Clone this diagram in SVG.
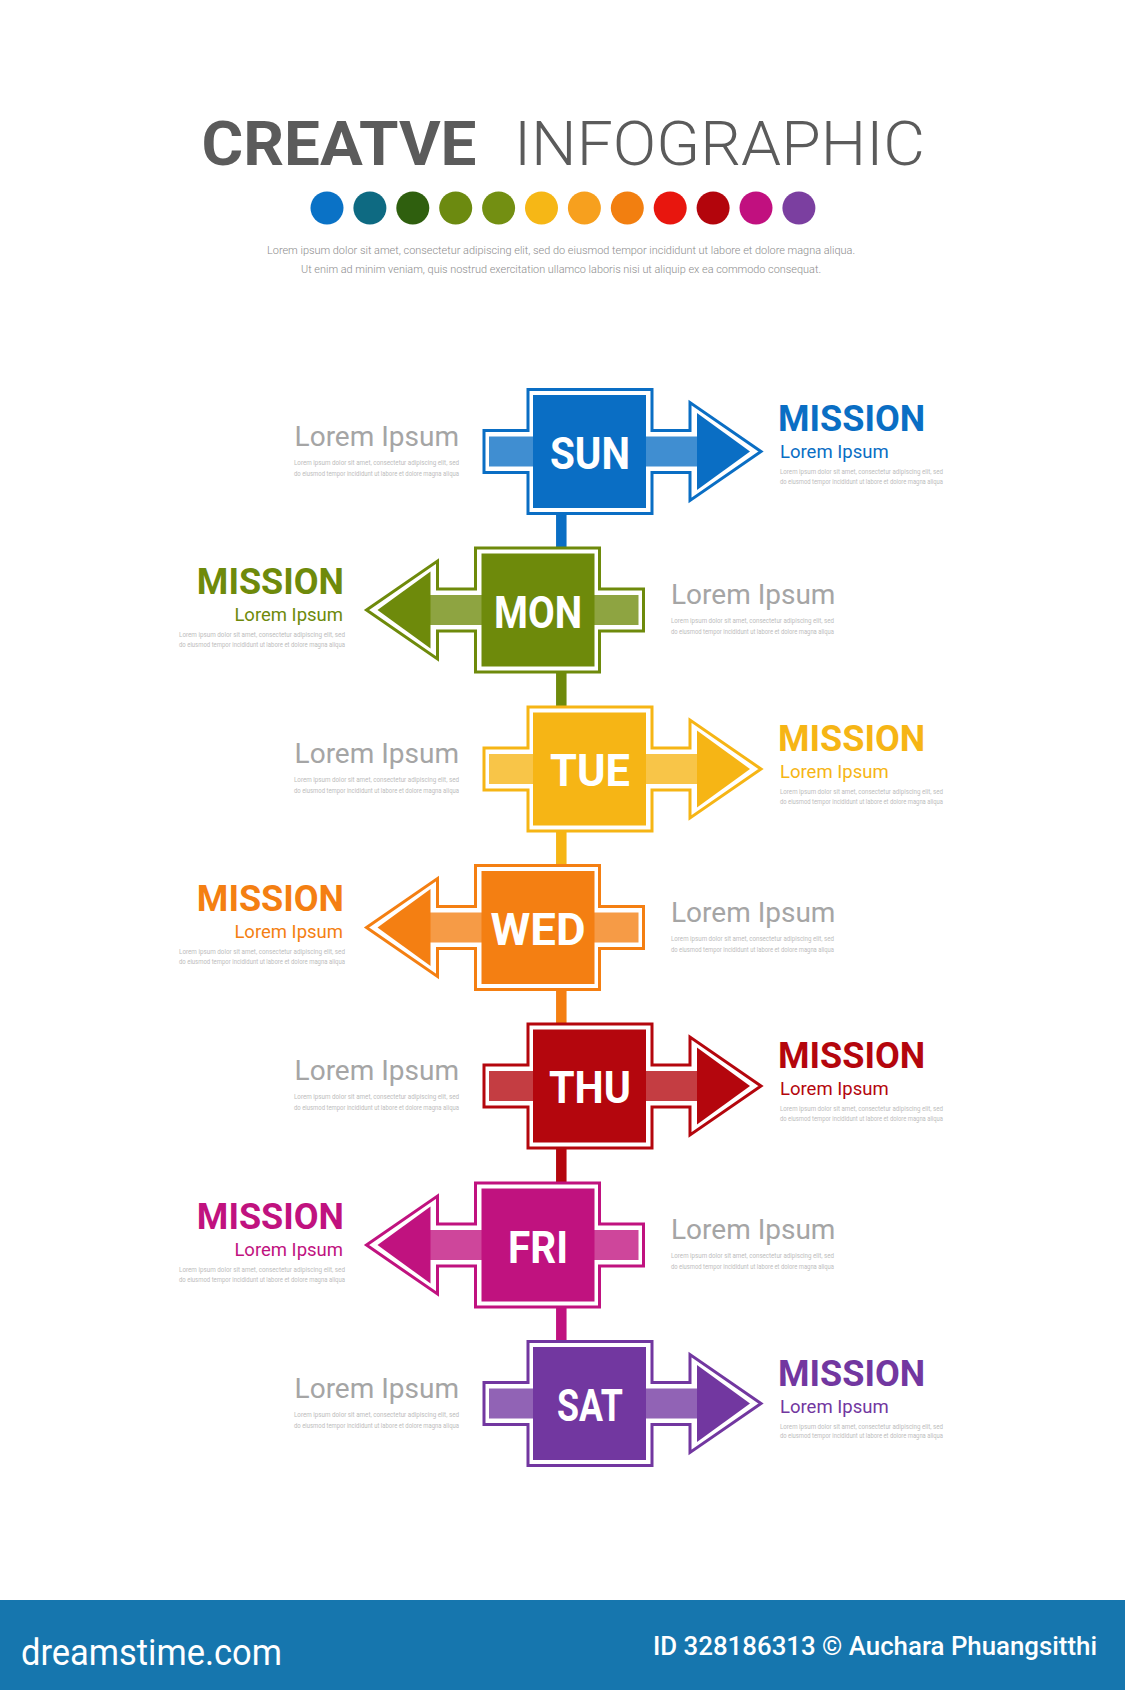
<svg xmlns="http://www.w3.org/2000/svg" xmlns:xlink="http://www.w3.org/1999/xlink" width="1125" height="1690" viewBox="0 0 1125 1690">
<style>
  .title-b { font-family: Roboto, "Liberation Sans", sans-serif; font-weight: 700; font-size: 62px; fill: #5b5b5b; }
  .title-l { font-family: Roboto, "Liberation Sans", sans-serif; font-weight: 300; font-size: 62px; fill: #5b5b5b; }
  .sub { font-family: Roboto, "Liberation Sans", sans-serif; font-weight: 300; font-size: 10.5px; fill: #8c8c8c; text-anchor: middle; }
  .day { font-family: Roboto, "Liberation Sans", sans-serif; font-weight: 700; font-size: 44px; fill: #ffffff; text-anchor: middle; }
  .mission { font-family: Roboto, "Liberation Sans", sans-serif; font-weight: 700; font-size: 36px; }
  .lorem-c { font-family: Roboto, "Liberation Sans", sans-serif; font-weight: 400; font-size: 18.5px; }
  .lorem-g { font-family: Roboto, "Liberation Sans", sans-serif; font-weight: 400; font-size: 28px; fill: #a5a5a5; }
  .tiny { font-family: Roboto, "Liberation Sans", sans-serif; font-weight: 400; font-size: 6.4px; fill: #bdbdbd; }
  .end { text-anchor: end; }
  .conn { stroke-width: 10.5; fill: none; }
  .banner-t { font-family: Roboto, "Liberation Sans", sans-serif; fill: #ffffff; }
</style>
<defs>
  <g id="arrow">
    <path d="M-106,-21 H-62 V-62 H62 V-21 H100 V-49 L171,0 L100,49 V21 H62 V62 H-62 V21 H-106 Z" fill="#ffffff" stroke="currentColor" stroke-width="3" stroke-linejoin="miter"/>
    <rect x="-101" y="-15" width="209" height="30" fill="currentColor" fill-opacity="0.78"/>
    <polygon points="107,-38.5 160,0 107,38.5" fill="currentColor"/>
    <rect x="-57" y="-56.5" width="113" height="113" fill="currentColor"/>
  </g>
</defs>

<rect x="0" y="0" width="1125" height="1690" fill="#ffffff"/>

<g id="title">
  <text class="title-b" x="201.5" y="165" textLength="275" lengthAdjust="spacingAndGlyphs">CREATVE</text>
  <text class="title-l" x="514" y="165" textLength="411" lengthAdjust="spacingAndGlyphs">INFOGRAPHIC</text>
  <circle cx="327" cy="208" r="16.5" fill="#0a72c6"/>
  <circle cx="369.9" cy="208" r="16.5" fill="#0e6a82"/>
  <circle cx="412.8" cy="208" r="16.5" fill="#2f5f0e"/>
  <circle cx="455.7" cy="208" r="16.5" fill="#6c8a10"/>
  <circle cx="498.6" cy="208" r="16.5" fill="#738f12"/>
  <circle cx="541.5" cy="208" r="16.5" fill="#f6b716"/>
  <circle cx="584.4" cy="208" r="16.5" fill="#f7a01e"/>
  <circle cx="627.3" cy="208" r="16.5" fill="#f27f10"/>
  <circle cx="670.2" cy="208" r="16.5" fill="#e8160e"/>
  <circle cx="713.1" cy="208" r="16.5" fill="#b3050c"/>
  <circle cx="756" cy="208" r="16.5" fill="#c1107f"/>
  <circle cx="798.9" cy="208" r="16.5" fill="#7b3fa0"/>
  <text class="sub" x="561" y="253.5" textLength="588" lengthAdjust="spacingAndGlyphs">Lorem ipsum dolor sit amet, consectetur adipiscing elit, sed do eiusmod tempor incididunt ut labore et dolore magna aliqua.</text>
  <text class="sub" x="561" y="273" textLength="520" lengthAdjust="spacingAndGlyphs">Ut enim ad minim veniam, quis nostrud exercitation ullamco laboris nisi ut aliquip ex ea commodo consequat.</text>
</g>

<g id="connectors">
  <line class="conn" x1="561.3" y1="514" x2="561.3" y2="549" stroke="#0a6ec4"/>
  <line class="conn" x1="561.3" y1="672" x2="561.3" y2="708" stroke="#6e8a0b"/>
  <line class="conn" x1="561.3" y1="831" x2="561.3" y2="866" stroke="#f6b515"/>
  <line class="conn" x1="561.3" y1="989" x2="561.3" y2="1025" stroke="#f47f12"/>
  <line class="conn" x1="561.3" y1="1148" x2="561.3" y2="1184" stroke="#b4060d"/>
  <line class="conn" x1="561.3" y1="1307" x2="561.3" y2="1342" stroke="#c0127f"/>
</g>

<g id="node-sun">
  <use href="#arrow" xlink:href="#arrow" transform="translate(590,451.5)" style="color:#0a6ec4"/>
  <text class="day" x="590" y="468.5" textLength="80" lengthAdjust="spacingAndGlyphs">SUN</text>
  <text class="lorem-g end" x="459" y="445.5">Lorem Ipsum</text>
  <text class="tiny end" x="459" y="464.5" textLength="165" lengthAdjust="spacingAndGlyphs">Lorem ipsum dolor sit amet, consectetur adipiscing elit, sed</text>
  <text class="tiny end" x="459" y="475.5" textLength="165" lengthAdjust="spacingAndGlyphs">do eiusmod tempor incididunt ut labore et dolore magna aliqua</text>
  <text class="mission" x="778" y="431" fill="#0a6ec4">MISSION</text>
  <text class="lorem-c" x="780" y="458" fill="#0a6ec4">Lorem Ipsum</text>
  <text class="tiny" x="780" y="474" textLength="163" lengthAdjust="spacingAndGlyphs">Lorem ipsum dolor sit amet, consectetur adipiscing elit, sed</text>
  <text class="tiny" x="780" y="483.5" textLength="163" lengthAdjust="spacingAndGlyphs">do eiusmod tempor incididunt ut labore et dolore magna aliqua</text>
</g>

<g id="node-mon">
  <use href="#arrow" xlink:href="#arrow" transform="translate(537.5,610) scale(-1,1)" style="color:#6e8a0b"/>
  <text class="day" x="538" y="628" textLength="88" lengthAdjust="spacingAndGlyphs">MON</text>
  <text class="mission end" x="344" y="594" fill="#6e8a0b">MISSION</text>
  <text class="lorem-c end" x="343" y="621" fill="#6e8a0b">Lorem Ipsum</text>
  <text class="tiny end" x="345" y="637" textLength="166" lengthAdjust="spacingAndGlyphs">Lorem ipsum dolor sit amet, consectetur adipiscing elit, sed</text>
  <text class="tiny end" x="345" y="646.5" textLength="166" lengthAdjust="spacingAndGlyphs">do eiusmod tempor incididunt ut labore et dolore magna aliqua</text>
  <text class="lorem-g" x="671" y="604">Lorem Ipsum</text>
  <text class="tiny" x="671" y="623" textLength="163" lengthAdjust="spacingAndGlyphs">Lorem ipsum dolor sit amet, consectetur adipiscing elit, sed</text>
  <text class="tiny" x="671" y="634" textLength="163" lengthAdjust="spacingAndGlyphs">do eiusmod tempor incididunt ut labore et dolore magna aliqua</text>
</g>

<g id="node-tue">
  <use href="#arrow" xlink:href="#arrow" transform="translate(590,769)" style="color:#f6b515"/>
  <text class="day" x="590" y="786" textLength="80" lengthAdjust="spacingAndGlyphs">TUE</text>
  <text class="lorem-g end" x="459" y="763">Lorem Ipsum</text>
  <text class="tiny end" x="459" y="782" textLength="165" lengthAdjust="spacingAndGlyphs">Lorem ipsum dolor sit amet, consectetur adipiscing elit, sed</text>
  <text class="tiny end" x="459" y="793" textLength="165" lengthAdjust="spacingAndGlyphs">do eiusmod tempor incididunt ut labore et dolore magna aliqua</text>
  <text class="mission" x="778" y="751" fill="#f6b515">MISSION</text>
  <text class="lorem-c" x="780" y="778" fill="#f6b515">Lorem Ipsum</text>
  <text class="tiny" x="780" y="794" textLength="163" lengthAdjust="spacingAndGlyphs">Lorem ipsum dolor sit amet, consectetur adipiscing elit, sed</text>
  <text class="tiny" x="780" y="803.5" textLength="163" lengthAdjust="spacingAndGlyphs">do eiusmod tempor incididunt ut labore et dolore magna aliqua</text>
</g>

<g id="node-wed">
  <use href="#arrow" xlink:href="#arrow" transform="translate(537.5,927.5) scale(-1,1)" style="color:#f47f12"/>
  <text class="day" x="538" y="945" textLength="95" lengthAdjust="spacingAndGlyphs">WED</text>
  <text class="mission end" x="344" y="911" fill="#f47f12">MISSION</text>
  <text class="lorem-c end" x="343" y="938" fill="#f47f12">Lorem Ipsum</text>
  <text class="tiny end" x="345" y="954" textLength="166" lengthAdjust="spacingAndGlyphs">Lorem ipsum dolor sit amet, consectetur adipiscing elit, sed</text>
  <text class="tiny end" x="345" y="963.5" textLength="166" lengthAdjust="spacingAndGlyphs">do eiusmod tempor incididunt ut labore et dolore magna aliqua</text>
  <text class="lorem-g" x="671" y="921.5">Lorem Ipsum</text>
  <text class="tiny" x="671" y="940.5" textLength="163" lengthAdjust="spacingAndGlyphs">Lorem ipsum dolor sit amet, consectetur adipiscing elit, sed</text>
  <text class="tiny" x="671" y="951.5" textLength="163" lengthAdjust="spacingAndGlyphs">do eiusmod tempor incididunt ut labore et dolore magna aliqua</text>
</g>

<g id="node-thu">
  <use href="#arrow" xlink:href="#arrow" transform="translate(590,1086)" style="color:#b4060d"/>
  <text class="day" x="590" y="1103" textLength="82" lengthAdjust="spacingAndGlyphs">THU</text>
  <text class="lorem-g end" x="459" y="1080">Lorem Ipsum</text>
  <text class="tiny end" x="459" y="1099" textLength="165" lengthAdjust="spacingAndGlyphs">Lorem ipsum dolor sit amet, consectetur adipiscing elit, sed</text>
  <text class="tiny end" x="459" y="1110" textLength="165" lengthAdjust="spacingAndGlyphs">do eiusmod tempor incididunt ut labore et dolore magna aliqua</text>
  <text class="mission" x="778" y="1068" fill="#b4060d">MISSION</text>
  <text class="lorem-c" x="780" y="1095" fill="#b4060d">Lorem Ipsum</text>
  <text class="tiny" x="780" y="1111" textLength="163" lengthAdjust="spacingAndGlyphs">Lorem ipsum dolor sit amet, consectetur adipiscing elit, sed</text>
  <text class="tiny" x="780" y="1120.5" textLength="163" lengthAdjust="spacingAndGlyphs">do eiusmod tempor incididunt ut labore et dolore magna aliqua</text>
</g>

<g id="node-fri">
  <use href="#arrow" xlink:href="#arrow" transform="translate(537.5,1245) scale(-1,1)" style="color:#c0127f"/>
  <text class="day" x="538" y="1262.5" textLength="60" lengthAdjust="spacingAndGlyphs">FRI</text>
  <text class="mission end" x="344" y="1229" fill="#c0127f">MISSION</text>
  <text class="lorem-c end" x="343" y="1256" fill="#c0127f">Lorem Ipsum</text>
  <text class="tiny end" x="345" y="1272" textLength="166" lengthAdjust="spacingAndGlyphs">Lorem ipsum dolor sit amet, consectetur adipiscing elit, sed</text>
  <text class="tiny end" x="345" y="1281.5" textLength="166" lengthAdjust="spacingAndGlyphs">do eiusmod tempor incididunt ut labore et dolore magna aliqua</text>
  <text class="lorem-g" x="671" y="1239">Lorem Ipsum</text>
  <text class="tiny" x="671" y="1258" textLength="163" lengthAdjust="spacingAndGlyphs">Lorem ipsum dolor sit amet, consectetur adipiscing elit, sed</text>
  <text class="tiny" x="671" y="1269" textLength="163" lengthAdjust="spacingAndGlyphs">do eiusmod tempor incididunt ut labore et dolore magna aliqua</text>
</g>

<g id="node-sat">
  <use href="#arrow" xlink:href="#arrow" transform="translate(590,1403.5)" style="color:#7237a0"/>
  <text class="day" x="590" y="1420.5" textLength="66" lengthAdjust="spacingAndGlyphs">SAT</text>
  <text class="lorem-g end" x="459" y="1397.5">Lorem Ipsum</text>
  <text class="tiny end" x="459" y="1416.5" textLength="165" lengthAdjust="spacingAndGlyphs">Lorem ipsum dolor sit amet, consectetur adipiscing elit, sed</text>
  <text class="tiny end" x="459" y="1427.5" textLength="165" lengthAdjust="spacingAndGlyphs">do eiusmod tempor incididunt ut labore et dolore magna aliqua</text>
  <text class="mission" x="778" y="1385.5" fill="#7237a0">MISSION</text>
  <text class="lorem-c" x="780" y="1412.5" fill="#7237a0">Lorem Ipsum</text>
  <text class="tiny" x="780" y="1428.5" textLength="163" lengthAdjust="spacingAndGlyphs">Lorem ipsum dolor sit amet, consectetur adipiscing elit, sed</text>
  <text class="tiny" x="780" y="1438" textLength="163" lengthAdjust="spacingAndGlyphs">do eiusmod tempor incididunt ut labore et dolore magna aliqua</text>
</g>

<g id="banner">
  <rect x="0" y="1600" width="1125" height="90" fill="#1676ae"/>
  <text class="banner-t" x="21" y="1665" font-size="37" textLength="261" lengthAdjust="spacingAndGlyphs">dreamstime.com</text>
  <text class="banner-t" x="653" y="1655" font-size="26" font-weight="500" textLength="444" lengthAdjust="spacingAndGlyphs">ID 328186313 © Auchara Phuangsitthi</text>
</g>
</svg>
